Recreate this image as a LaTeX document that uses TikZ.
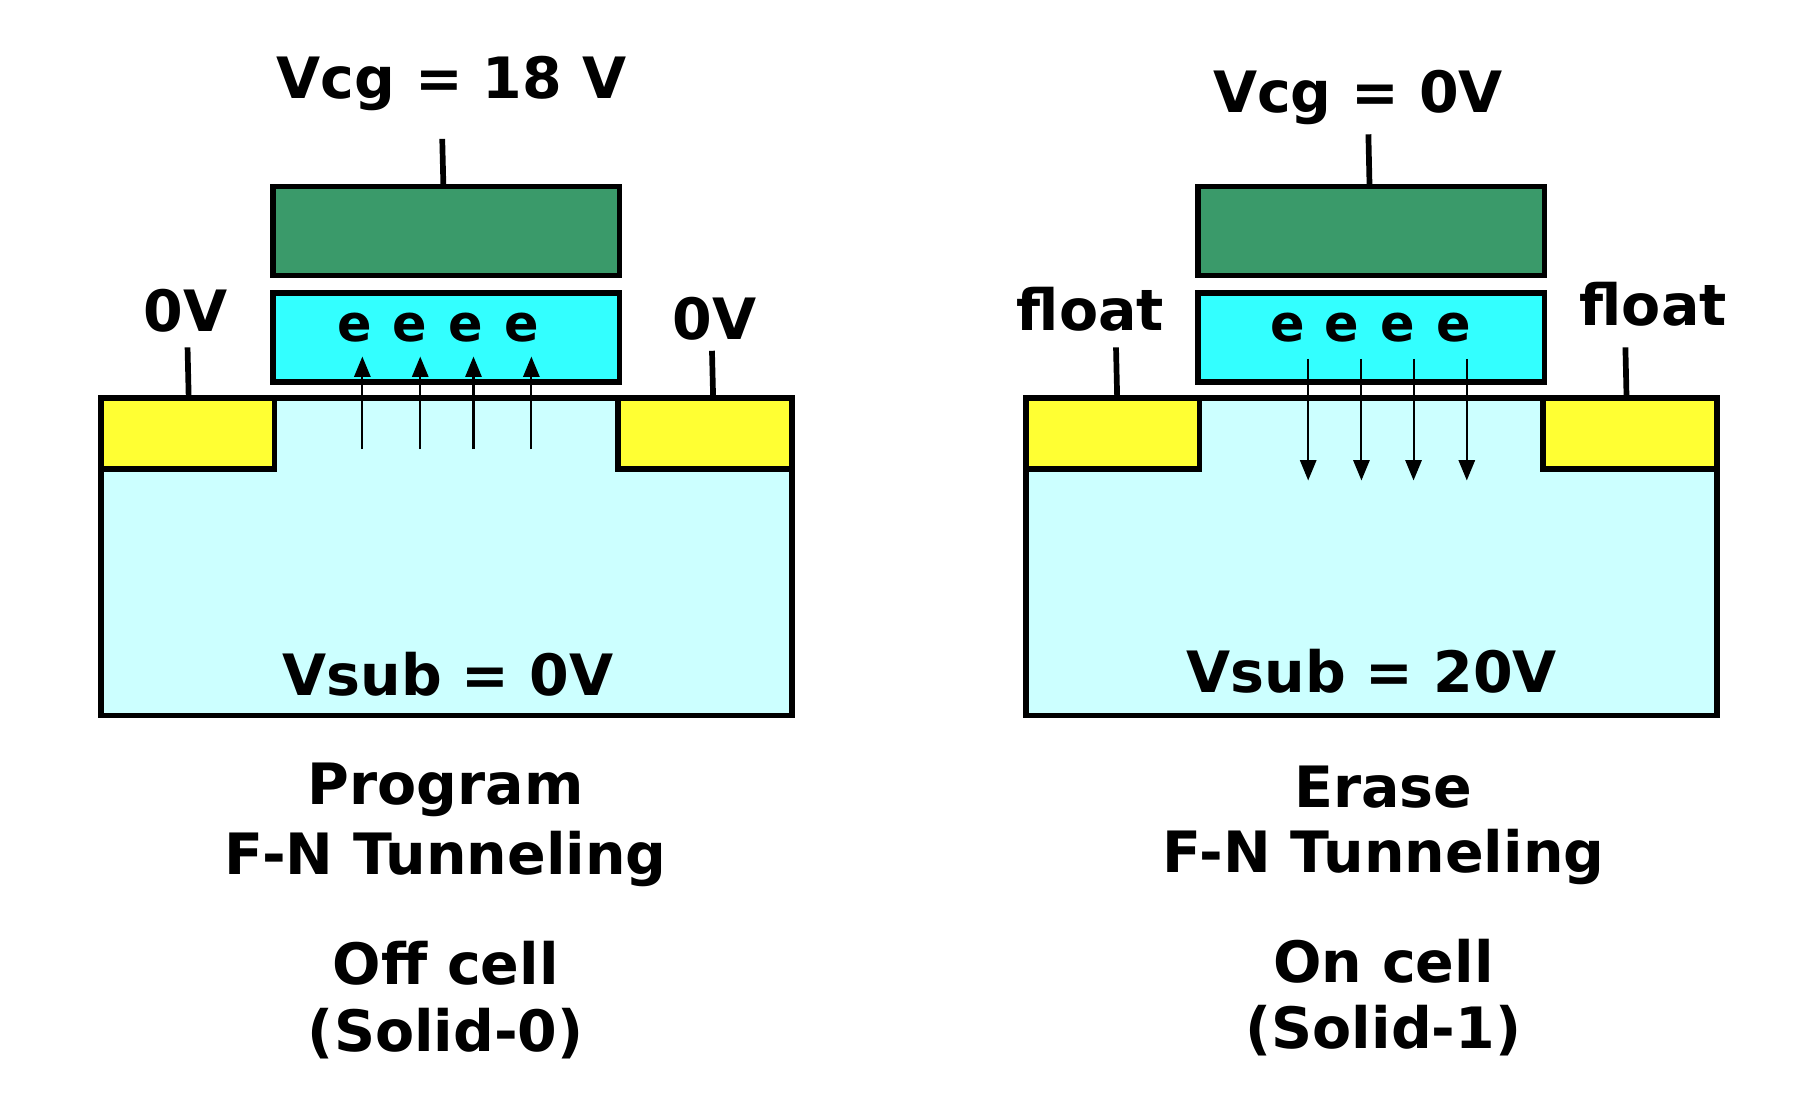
\documentclass[tikz,border=0pt]{standalone}
\usepackage{fontspec}
\setmainfont{DejaVu Sans}
\usetikzlibrary{arrows.meta}
\definecolor{cg}{HTML}{3A9A6A}
\definecolor{fg}{HTML}{33FFFF}
\definecolor{sub}{HTML}{CCFFFF}
\definecolor{yel}{HTML}{FFFF33}
\begin{document}
\begin{tikzpicture}[x=0.01cm,y=-0.01cm,
  box/.style={draw=black,line width=1.4pt},
  wire/.style={line width=1.4pt},
  lbl/.style={font=\bfseries\fontsize{14}{16}\selectfont,inner sep=0pt},
  el/.style={font=\bfseries\fontsize{12.5}{14}\selectfont,inner sep=0pt},
  arr/.style={line width=0.5pt,-{Triangle[length=5pt,width=4pt]}}]
\useasboundingbox (0,0) rectangle (1560,945);
% ---------- left cell ----------
\fill[sub] (87,344) rectangle (684,618);
\draw[box] (237,344) -- (534,344) (87,344) -- (87,618) -- (684,618) -- (684,344);
\draw[box,fill=yel] (87,344) rectangle (237,405);
\draw[box,fill=yel] (534,344) rectangle (684,405);
\draw[box,fill=fg] (236,253) rectangle (535,330);
\draw[box,fill=cg] (236,161) rectangle (535,238);
\node[lbl] (Lvcg) at (390,72) {Vcg = 18 V};
\coordinate (Lcgt) at (383,161); \coordinate (Lcgw) at (382,120);
\draw[wire] (Lcgw) -- (Lcgt);
\node[lbl] (Ls) at (160,268) {0V};
\node[lbl] (Ld) at (617,275) {0V};
\coordinate (Lsw) at (162,300); \coordinate (Lsb) at (163,344);
\coordinate (Ldw) at (615,303); \coordinate (Ldb) at (616,344);
\draw[wire] (Lsw) -- (Lsb); \draw[wire] (Ldw) -- (Ldb);
\foreach \x/\a [count=\i] in {306/313,354/363,402/409,451/459}{
  \node[el] (Le\i) at (\x,283) {e};
  \coordinate (La\i) at (\a,388); \coordinate (Lb\i) at (\a,308);
  \draw[arr] (La\i) -- (Lb\i);
}
\node[lbl] (Lvsub) at (387,582) {Vsub = 0V};
\node[lbl] (Lp) at (385,682) {Program};
\node[lbl] (Lfn) at (385,742) {F-N Tunneling};
\node[lbl] (Loff) at (385,832) {Off cell};
\node[lbl] (Ls0) at (385,893) {(Solid-0)};
% ---------- right cell ----------
\fill[sub] (886,344) rectangle (1483,618);
\draw[box] (1036,344) -- (1333,344) (886,344) -- (886,618) -- (1483,618) -- (1483,344);
\draw[box,fill=yel] (886,344) rectangle (1036,405);
\draw[box,fill=yel] (1333,344) rectangle (1483,405);
\draw[box,fill=fg] (1035,253) rectangle (1334,330);
\draw[box,fill=cg] (1035,161) rectangle (1334,238);
\node[lbl] (Rvcg) at (1173,84) {Vcg = 0V};
\coordinate (Rcgt) at (1183,161); \coordinate (Rcgw) at (1182,116);
\draw[wire] (Rcgw) -- (Rcgt);
\node[lbl] (Rs) at (942,267) {float};
\node[lbl] (Rd) at (1428,263) {float};
\coordinate (Rsw) at (964,300); \coordinate (Rsb) at (965,344);
\coordinate (Rdw) at (1404,300); \coordinate (Rdb) at (1405,344);
\draw[wire] (Rsw) -- (Rsb); \draw[wire] (Rdw) -- (Rdb);
\foreach \x/\a [count=\i] in {1112/1130,1159/1176,1207/1221,1256/1267}{
  \node[el] (Re\i) at (\x,283) {e};
  \coordinate (Ra\i) at (\a,310); \coordinate (Rb\i) at (\a,415);
  \draw[arr] (Ra\i) -- (Rb\i);
}
\node[lbl] (Rvsub) at (1185,580) {Vsub = 20V};
\node[lbl] (Rp) at (1195,680) {Erase};
\node[lbl] (Rfn) at (1195,740) {F-N Tunneling};
\node[lbl] (Ron) at (1195,830) {On cell};
\node[lbl] (Rs1) at (1195,890) {(Solid-1)};
\end{tikzpicture}
\end{document}
